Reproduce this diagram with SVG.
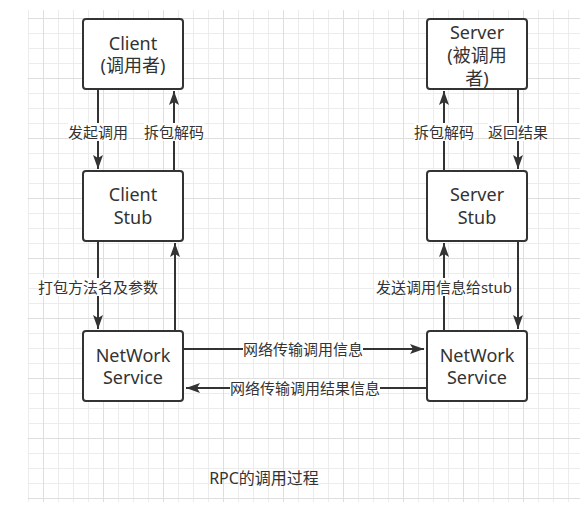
<svg xmlns="http://www.w3.org/2000/svg" width="580" height="516" viewBox="0 0 580 516">
  <defs>
    <pattern id="minor" x="28" y="3" width="15" height="15" patternUnits="userSpaceOnUse">
      <path d="M0.5 0V15M0 0.5H15" stroke="#ececec" stroke-width="1" fill="none"/>
    </pattern>
    <pattern id="major" x="43" y="18" width="60" height="60" patternUnits="userSpaceOnUse">
      <path d="M0.5 0V60M0 0.5H60" stroke="#dedede" stroke-width="1" fill="none"/>
    </pattern>
    <marker id="arr" viewBox="0 0 14 10" refX="14" refY="5" markerWidth="14" markerHeight="10" markerUnits="userSpaceOnUse" orient="auto">
      <path d="M0 0L14 5L0 10L3 5Z" fill="#333"/>
    </marker>
    <style>
      .box { fill: #fff; stroke: #333; stroke-width: 2; }
      .node { font-family: "Noto Sans", "Noto Sans CJK SC", sans-serif; font-size: 18px; fill: #333; text-anchor: middle; dominant-baseline: central; }
      .lbl { font-family: "Noto Sans", "Noto Sans CJK SC", sans-serif; font-size: 15px; fill: #333; text-anchor: middle; dominant-baseline: central; }
      .edge { stroke: #333; stroke-width: 2; fill: none; marker-end: url(#arr); }
      .lbg { fill: #fff; }
    </style>
  </defs>
  <rect width="580" height="516" fill="#fff"/>
  <rect x="28" y="10" width="552" height="492" fill="url(#minor)"/>
  <rect x="28" y="10" width="552" height="492" fill="url(#major)"/>

  <g id="connectors">
    <path class="edge" d="M98 89V169"/>
    <path class="edge" d="M174 171V91"/>
    <path class="edge" d="M98 241V329"/>
    <path class="edge" d="M175 331V243"/>
    <path class="edge" d="M444 171V91"/>
    <path class="edge" d="M518 89V169"/>
    <path class="edge" d="M444 331V243"/>
    <path class="edge" d="M518 241V329"/>
    <path class="edge" d="M183 349H424"/>
    <path class="edge" d="M427 388H186"/>
    <rect class="lbg" x="68" y="123" width="60" height="18"/>
    <text class="lbl" x="98" y="132">发起调用</text>
    <rect class="lbg" x="144" y="123" width="60" height="18"/>
    <text class="lbl" x="174" y="132">拆包解码</text>
    <rect class="lbg" x="38" y="278" width="120" height="18"/>
    <text class="lbl" x="98" y="287">打包方法名及参数</text>
    <rect class="lbg" x="414" y="123" width="60" height="18"/>
    <text class="lbl" x="444" y="132">拆包解码</text>
    <rect class="lbg" x="488" y="123" width="60" height="18"/>
    <text class="lbl" x="518" y="132">返回结果</text>
    <rect class="lbg" x="375" y="278" width="138" height="18"/>
    <text class="lbl" x="444" y="287">发送调用信息给stub</text>
    <rect class="lbg" x="243" y="340" width="120" height="18"/>
    <text class="lbl" x="303" y="349">网络传输调用信息</text>
    <rect class="lbg" x="230" y="379" width="150" height="18"/>
    <text class="lbl" x="305" y="388">网络传输调用结果信息</text>
  </g>

  <g id="client">
    <rect class="box" x="83" y="19" width="100" height="70" rx="3"/>
    <text class="node" x="133" y="43">Client</text>
    <text class="node" x="133" y="65">(调用者)</text>
  </g>
  <g id="client-stub">
    <rect class="box" x="83" y="171" width="100" height="70" rx="3"/>
    <text class="node" x="133" y="194">Client</text>
    <text class="node" x="133" y="217">Stub</text>
  </g>
  <g id="client-network">
    <rect class="box" x="83" y="331" width="100" height="70" rx="3"/>
    <text class="node" x="133" y="355">NetWork</text>
    <text class="node" x="133" y="377">Service</text>
  </g>
  <g id="server">
    <rect class="box" x="427" y="19" width="100" height="70" rx="3"/>
    <text class="node" x="477" y="32">Server</text>
    <text class="node" x="477" y="55">(被调用</text>
    <text class="node" x="477" y="78">者)</text>
  </g>
  <g id="server-stub">
    <rect class="box" x="427" y="171" width="100" height="70" rx="3"/>
    <text class="node" x="477" y="194">Server</text>
    <text class="node" x="477" y="217">Stub</text>
  </g>
  <g id="server-network">
    <rect class="box" x="427" y="331" width="100" height="70" rx="3"/>
    <text class="node" x="477" y="355">NetWork</text>
    <text class="node" x="477" y="377">Service</text>
  </g>
  <g id="title">
    <text class="node" style="font-size:16px" x="264" y="478">RPC的调用过程</text>
  </g>
</svg>
